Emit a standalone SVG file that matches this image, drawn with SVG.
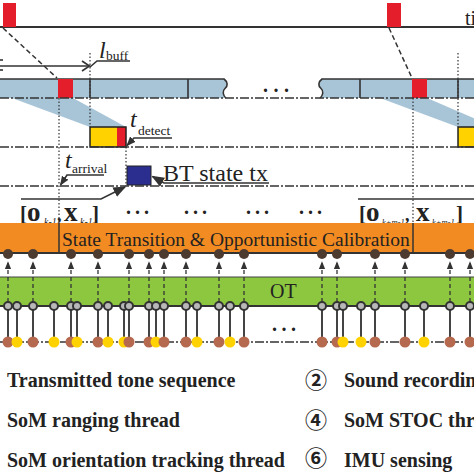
<svg xmlns="http://www.w3.org/2000/svg" width="474" height="474" viewBox="0 0 474 474">
<defs>
<style>
.dd{stroke:#333;stroke-width:1.3;stroke-dasharray:9 2 2 2;fill:none}
.dot{stroke:#333;stroke-width:1.2;stroke-dasharray:1.5 2;fill:none}
.ln{stroke:#333;stroke-width:1.6;fill:none}
.dash{stroke:#333;stroke-width:1.5;stroke-dasharray:5 3;fill:none}
.vl{stroke:#444;stroke-width:2}
.ar{stroke:#333;stroke-width:1.3;stroke-dasharray:4 3;fill:none}
.serif{font-family:"Liberation Serif","Times New Roman",serif;fill:#222}
.leg{font-family:"Liberation Serif","Times New Roman",serif;font-weight:bold;font-size:20px;fill:#222}
.num{font-family:"Noto Sans CJK JP","DejaVu Sans",sans-serif;font-size:22px;font-weight:bold;fill:#222}
.sub{font-size:13.5px}
.bar{fill:#a8c4d7}
.red{fill:#e41f2b}
.yel{fill:#ffd200}
.tc{fill:#4e3b30}
.bc{fill:#b5694f}
.yc{fill:#ffd200}
.hc{fill:#b8b8b8;stroke:#333;stroke-width:2}
</style>
<marker id="ah" viewBox="0 0 10 10" refX="9" refY="5" markerWidth="6" markerHeight="6" orient="auto"><path d="M0,1 L10,5 L0,9 z" fill="#333"/></marker>
<marker id="ah2" viewBox="0 0 10 10" refX="9" refY="5" markerWidth="8" markerHeight="8" orient="auto"><path d="M0,1 L10,5 L0,9 z" fill="#333"/></marker>
</defs>
<rect width="474" height="474" fill="#fff"/>

<g id="tone-sequence">
<line x1="0" y1="27" x2="474" y2="27" stroke="#333" stroke-width="2.2"/>
<rect class="red" x="3" y="3" width="13" height="24"/>
<rect class="red" x="387" y="3" width="14" height="24"/>
<text class="serif" x="465" y="25" font-size="20">ti</text>
</g>

<g id="recording-bar">
<path class="bar" d="M0,79 H224 c4,3 4,7 1,9.5 c-3,2.5 -2,7 1,9.5 H0 Z"/>
<path class="ln" d="M0,79 H224 c4,3 4,7 1,9.5 c-3,2.5 -2,7 1,9.5"/>
<path class="bar" d="M474,79 H322 c-4,3 -4,7 -1,9.5 c3,2.5 2,7 -1,9.5 H474 Z"/>
<path class="ln" d="M474,79 H322 c-4,3 -4,7 -1,9.5 c3,2.5 2,7 -1,9.5"/>
<rect class="red" x="58" y="79" width="15" height="19"/>
<rect class="red" x="412" y="79" width="15" height="19"/>
<g class="ln"><line x1="90" y1="79" x2="90" y2="98"/><line x1="188" y1="79" x2="188" y2="98"/><line x1="360" y1="79" x2="360" y2="98"/><line x1="458" y1="79" x2="458" y2="98"/></g>
<text class="serif" x="263" y="92" font-size="20" font-weight="bold" letter-spacing="5.5">...</text>
</g>

<g id="ranging">
<polygon class="bar" points="12,98 73,98 126,127 90,127"/>
<polygon class="bar" points="380,98 427,98 494,127 458,127"/>
<rect class="yel" x="90" y="127" width="27" height="20"/>
<rect class="red" x="117" y="127" width="9" height="20"/>
<rect x="90" y="127" width="36" height="20" fill="none" stroke="#222" stroke-width="1.5"/>
<rect class="yel" x="458" y="127" width="27" height="20" stroke="#222" stroke-width="1.5"/>
</g>

<g id="bt-state">
<rect x="127" y="166" width="24" height="19" fill="#2b2e8f" stroke="#222" stroke-width="1"/>
<text class="serif" x="163" y="181" font-size="24">BT state tx</text>
</g>

<g id="guides">
<line class="dd" x1="0" y1="98" x2="474" y2="98"/>
<line class="dd" x1="0" y1="147" x2="474" y2="147"/>
<line class="dd" x1="0" y1="186" x2="474" y2="186"/>
<line class="dot" x1="59" y1="98" x2="59" y2="223"/>
<line class="dot" x1="90" y1="53" x2="90" y2="127"/>
<line class="dot" x1="126" y1="147" x2="126" y2="186"/>
<line class="dot" x1="413" y1="98" x2="413" y2="223"/>
<line class="dot" x1="458" y1="53" x2="458" y2="127"/>
</g>

<g id="labels">
<text class="serif" x="99" y="58" font-size="24" font-style="italic">l</text>
<text class="serif sub" x="106" y="60">buff</text>
<text class="serif" x="130" y="127" font-size="24" font-style="italic">t</text>
<text class="serif sub" x="138" y="135">detect</text>
<text class="serif" x="65" y="168" font-size="24" font-style="italic">t</text>
<text class="serif sub" x="72" y="173">arrival</text>
</g>

<g id="connectors">
<line class="dash" x1="3" y1="28" x2="57" y2="78"/>
<line class="dash" x1="389" y1="28" x2="412" y2="78"/>
<line class="ln" x1="0" y1="66" x2="89" y2="66"/>
<path class="ln" d="M82,61 L89.5,66 L82,71"/>
<line class="ln" x1="0" y1="60" x2="3" y2="60" stroke-width="1"/>
<line class="ln" x1="0" y1="70" x2="3" y2="70" stroke-width="1"/>
<path class="ln" d="M90,67 L97,61 H130" stroke-width="1.3"/>
<path class="ln" d="M172,138 H134 L127,145.5" stroke-width="1.3" marker-end="url(#ah)"/>
<path class="ln" d="M104,175 H67 L60.5,185" stroke-width="1.3" marker-end="url(#ah)"/>
<path class="ln" d="M269,183 H164 L152.5,176.5" stroke-width="1.3" marker-end="url(#ah2)"/>
<path class="ln" d="M21,199 H101 L125,187" stroke-width="1.5" marker-end="url(#ah2)"/>
<line class="ln" x1="358" y1="199" x2="474" y2="199"/>
</g>

<g id="states">
<text class="serif" font-weight="bold" y="221"><tspan x="20" font-size="21">[</tspan><tspan x="27" font-size="27">o</tspan><tspan x="44" y="225" font-size="10" font-weight="normal" font-style="italic">k-1</tspan><tspan x="57" y="221" font-size="18">,</tspan><tspan x="64" font-size="27">x</tspan><tspan x="80" y="225" font-size="10" font-weight="normal" font-style="italic">k-1</tspan><tspan x="92" y="221" font-size="21">]</tspan></text>
<text class="serif" font-weight="bold" font-size="20" y="214" letter-spacing="4"><tspan x="126">...</tspan><tspan x="184">...</tspan><tspan x="246">...</tspan><tspan x="299">...</tspan></text>
<text class="serif" font-weight="bold" y="221"><tspan x="359" font-size="21">[</tspan><tspan x="366" font-size="27">o</tspan><tspan x="382" y="225" font-size="8.5" font-weight="normal" font-style="italic">k+m-1</tspan><tspan x="405" y="221" font-size="18">,</tspan><tspan x="416" font-size="27">x</tspan><tspan x="432" y="225" font-size="8.5" font-weight="normal" font-style="italic">k+m-1</tspan><tspan x="456" y="221" font-size="21">]</tspan></text>
</g>

<g id="stoc-thread">
<rect x="0" y="223" width="474" height="30" fill="#f28b21"/>
<line x1="59" y1="223" x2="59" y2="253" stroke="#333" stroke-width="1.5"/>
<line x1="413" y1="223" x2="413" y2="253" stroke="#333" stroke-width="1.5"/>
<line x1="0" y1="253" x2="474" y2="253" stroke="#333" stroke-width="2"/>
<text class="serif" x="62" y="246" font-size="19.5" fill="#3a2a1a">State Transition &amp; Opportunistic Calibration</text>
</g>

<g id="ot-thread">
<rect x="0" y="277" width="474" height="29" fill="#8dc63f"/>
<line x1="0" y1="277" x2="474" y2="277" stroke="#444" stroke-width="1.2"/>
<line x1="0" y1="306" x2="474" y2="306" stroke="#333" stroke-width="2"/>
<text class="serif" x="270" y="298" font-size="20" fill="#2a3a10">OT</text>
</g>

<g id="sensing">
<line class="dd" x1="0" y1="342" x2="474" y2="342"/>
<text class="serif" x="272" y="331" font-size="20" font-weight="bold" letter-spacing="4.5">...</text>
</g>

<g id="event-links">
<g class="vl">
<line x1="8" y1="310" x2="8" y2="342"/><line x1="17" y1="310" x2="17" y2="342"/><line x1="33" y1="310" x2="33" y2="342"/><line x1="54" y1="310" x2="54" y2="342"/><line x1="71" y1="310" x2="71" y2="342"/><line x1="77" y1="310" x2="77" y2="342"/><line x1="98" y1="310" x2="98" y2="342"/><line x1="108" y1="310" x2="108" y2="342"/><line x1="124" y1="310" x2="124" y2="342"/><line x1="129" y1="310" x2="129" y2="342"/><line x1="149" y1="310" x2="149" y2="342"/><line x1="156" y1="310" x2="156" y2="342"/><line x1="164" y1="310" x2="164" y2="342"/><line x1="186" y1="310" x2="186" y2="342"/><line x1="197" y1="310" x2="197" y2="342"/><line x1="219" y1="310" x2="219" y2="342"/><line x1="230" y1="310" x2="230" y2="342"/><line x1="244" y1="310" x2="244" y2="342"/><line x1="322" y1="310" x2="322" y2="342"/><line x1="337" y1="310" x2="337" y2="342"/><line x1="343" y1="310" x2="343" y2="342"/><line x1="361" y1="310" x2="361" y2="342"/><line x1="375" y1="310" x2="375" y2="342"/><line x1="405" y1="310" x2="405" y2="342"/><line x1="424" y1="310" x2="424" y2="342"/><line x1="450" y1="310" x2="450" y2="342"/><line x1="470" y1="310" x2="470" y2="342"/>
</g>
<g class="ar" marker-end="url(#ah)">
<line x1="8" y1="302" x2="8" y2="262"/><line x1="33" y1="302" x2="33" y2="262"/><line x1="71" y1="302" x2="71" y2="262"/><line x1="98" y1="302" x2="98" y2="262"/><line x1="129" y1="302" x2="129" y2="262"/><line x1="149" y1="302" x2="149" y2="262"/><line x1="164" y1="302" x2="164" y2="262"/><line x1="186" y1="302" x2="186" y2="262"/><line x1="219" y1="302" x2="219" y2="262"/><line x1="244" y1="302" x2="244" y2="262"/><line x1="322" y1="302" x2="322" y2="262"/><line x1="337" y1="302" x2="337" y2="262"/><line x1="375" y1="302" x2="375" y2="262"/><line x1="405" y1="302" x2="405" y2="262"/><line x1="450" y1="302" x2="450" y2="262"/><line x1="470" y1="302" x2="470" y2="262"/>
</g>
</g>

<g id="stoc-events" class="tc">
<circle cx="8" cy="254" r="5"/><circle cx="33" cy="254" r="5"/><circle cx="71" cy="254" r="5"/><circle cx="98" cy="254" r="5"/><circle cx="129" cy="254" r="5"/><circle cx="149" cy="254" r="5"/><circle cx="164" cy="254" r="5"/><circle cx="186" cy="254" r="5"/><circle cx="219" cy="254" r="5"/><circle cx="244" cy="254" r="5"/><circle cx="322" cy="254" r="5"/><circle cx="337" cy="254" r="5"/><circle cx="375" cy="254" r="5"/><circle cx="405" cy="254" r="5"/><circle cx="450" cy="254" r="5"/><circle cx="470" cy="254" r="5"/>
</g>

<g id="ot-events" class="hc">
<circle cx="8" cy="306" r="4"/><circle cx="17" cy="306" r="4"/><circle cx="33" cy="306" r="4"/><circle cx="54" cy="306" r="4"/><circle cx="71" cy="306" r="4"/><circle cx="77" cy="306" r="4"/><circle cx="98" cy="306" r="4"/><circle cx="108" cy="306" r="4"/><circle cx="124" cy="306" r="4"/><circle cx="129" cy="306" r="4"/><circle cx="149" cy="306" r="4"/><circle cx="156" cy="306" r="4"/><circle cx="164" cy="306" r="4"/><circle cx="186" cy="306" r="4"/><circle cx="197" cy="306" r="4"/><circle cx="219" cy="306" r="4"/><circle cx="230" cy="306" r="4"/><circle cx="244" cy="306" r="4"/><circle cx="322" cy="306" r="4"/><circle cx="337" cy="306" r="4"/><circle cx="343" cy="306" r="4"/><circle cx="361" cy="306" r="4"/><circle cx="375" cy="306" r="4"/><circle cx="405" cy="306" r="4"/><circle cx="424" cy="306" r="4"/><circle cx="450" cy="306" r="4"/><circle cx="470" cy="306" r="4"/>
</g>

<g id="imu-events">
<g class="bc"><circle cx="8" cy="342" r="5.5"/><circle cx="33" cy="342" r="5.5"/><circle cx="71" cy="342" r="5.5"/><circle cx="98" cy="342" r="5.5"/><circle cx="149" cy="342" r="5.5"/><circle cx="186" cy="342" r="5.5"/><circle cx="219" cy="342" r="5.5"/><circle cx="244" cy="342" r="5.5"/><circle cx="322" cy="342" r="5.5"/><circle cx="337" cy="342" r="5.5"/><circle cx="375" cy="342" r="5.5"/><circle cx="405" cy="342" r="5.5"/><circle cx="450" cy="342" r="5.5"/><circle cx="470" cy="342" r="5.5"/></g>
<g class="yc"><circle cx="17" cy="342" r="5.5"/><circle cx="54" cy="342" r="5.5"/><circle cx="77" cy="342" r="5.5"/><circle cx="108" cy="342" r="5.5"/><circle cx="124" cy="342" r="5.5"/><circle cx="156" cy="342" r="5.5"/><circle cx="197" cy="342" r="5.5"/><circle cx="230" cy="342" r="5.5"/><circle cx="343" cy="342" r="5.5"/><circle cx="361" cy="342" r="5.5"/><circle cx="424" cy="342" r="5.5"/></g>
<g class="bc"><circle cx="129" cy="342" r="5.5"/><circle cx="164" cy="342" r="5.5"/></g>
</g>

<g id="legend">
<text class="leg" x="7" y="387">Transmitted tone sequence</text>
<text class="leg" x="7" y="427">SoM ranging thread</text>
<text class="leg" x="7" y="467">SoM orientation tracking thread</text>
<text class="num" x="305" y="388">②</text>
<text class="num" x="305" y="428">④</text>
<text class="num" x="305" y="466">⑥</text>
<text class="leg" x="344" y="387">Sound recordin</text>
<text class="leg" x="344" y="427">SoM STOC thr</text>
<text class="leg" x="344" y="467">IMU sensing</text>
</g>
</svg>
